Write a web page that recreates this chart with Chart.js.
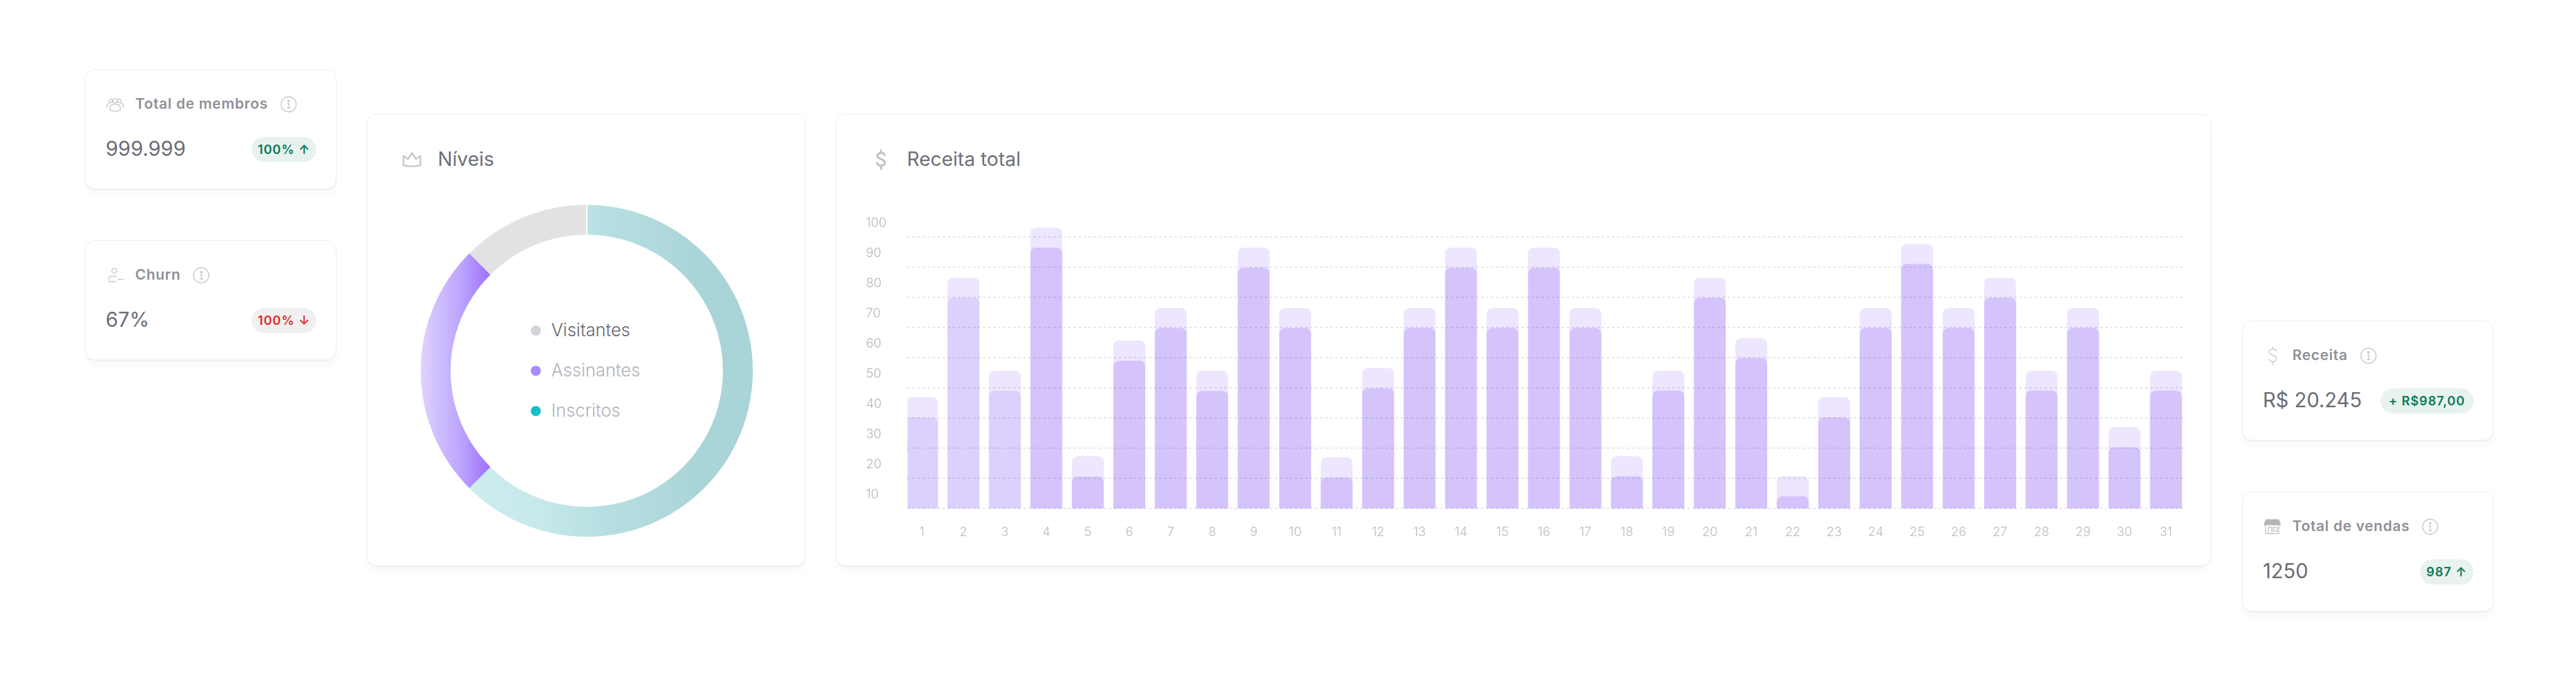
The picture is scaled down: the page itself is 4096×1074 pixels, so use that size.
<!DOCTYPE html>
<html lang="pt-BR">
<head>
<meta charset="utf-8">
<title>Dashboard</title>
<script src="https://cdn.jsdelivr.net/npm/chart.js@4"></script>
<style>
html,body{margin:0;padding:0;background:#fff;width:4096px;height:1074px;overflow:hidden;font-family:Inter,sans-serif}
.card{position:absolute;box-sizing:border-box;background:#fff;border:1.5px solid #ededef;border-radius:16px;box-shadow:0 2px 2px rgba(0,0,0,.04),0 12px 10px rgba(0,0,0,.02)}
.t{position:absolute;white-space:nowrap;line-height:40px;height:40px}
.st{font-size:23px;font-weight:600;color:#8f9198;letter-spacing:.75px}
.val{font-size:32px;font-weight:400;color:#6a6d75}
.h{font-size:31px;font-weight:400;color:#6e7079}
.badge{position:absolute;height:40px;line-height:40px;border-radius:20px;box-sizing:border-box;text-align:center;font-size:20px;font-weight:600;letter-spacing:1px;white-space:nowrap}
.g{background:#e8f2ef;color:#0a7a55}
.r{background:#f0f0f0;color:#e02b2b}
.leg{font-size:28px;font-weight:300}
.dot{position:absolute;width:16px;height:16px;border-radius:50%}
svg.i{position:absolute;overflow:visible;fill:none;stroke:#c5c5ca;stroke-width:1.4;stroke-linecap:round;stroke-linejoin:round}
canvas{position:absolute}
</style>
</head>
<body>
<div id="root"></div>
<canvas id="donut" width="528" height="528" style="left:669px;top:326px;width:528px;height:528px"></canvas>
<canvas id="bars" width="2094" height="560" style="left:1377px;top:329px;width:2094px;height:560px"></canvas>
<script>
const days = [1,2,3,4,5,6,7,8,9,10,11,12,13,14,15,16,17,18,19,20,21,22,23,24,25,26,27,28,29,30,31];
const receitaTotal = [46.8,86.4,55.6,103,27.2,65.6,76.4,55.6,96.4,76.4,26.9,56.5,76.4,96.4,76.4,96.4,76.4,27.2,55.6,86.4,66.4,20.6,46.8,76.4,97.6,76.4,86.4,55.6,76.4,36.9,55.6];
const receitaBase = [40.1,79.8,48.9,96.4,20.5,58.9,69.7,48.9,89.7,69.7,20.2,49.8,69.8,89.7,69.8,89.7,69.8,20.6,49,79.8,59.8,14,40.1,69.8,91,69.8,79.8,49,69.8,30.2,49];
const yTicks = [10,20,30,40,50,60,70,80,90,100];
const niveisLabels = ['Inscritos','Assinantes','Visitantes'];
const niveisValues = [62.5,25,12.5];
const legendOrder = ['Visitantes','Assinantes','Inscritos'];

const info = (x,y)=>`<svg class="i" style="left:${x-13}px;top:${y-13}px" width="26" height="26" viewBox="0 0 26 26"><circle cx="13" cy="13" r="12"/><circle cx="13" cy="8" r="1.2"/><path d="M11.5 12h2v7M11 19h4.5"/></svg>`;
const ic = {
 members:(x,y)=>`<svg class="i" style="left:${x-14}px;top:${y-12}px" width="28" height="24" viewBox="0 0 28 24"><circle cx="14" cy="6" r="3.6"/><circle cx="7.5" cy="6.5" r="2.6"/><circle cx="20.5" cy="6.5" r="2.6"/><path d="M7 22c-2-.5-2-8 2-9.5 3-1.2 7-1.2 10 0 4 1.500 4 9 2 9.500-4 1-10 1-14 0z"/><path d="M5 10C1.500 10.500-.5 15 2 17M23 10c3.500.5 5.500 5 3 7"/></svg>`,
 churn:(x,y)=>`<svg class="i" style="left:${x-14}px;top:${y-12}px" width="28" height="24" viewBox="0 0 28 24"><circle cx="12" cy="5" r="4"/><path d="M15 14c-4-1.500-11-1-12 3-.5 3 0 5 2 5h9M18 18.500h8"/></svg>`,
 dollar:(x,y)=>`<svg class="i" style="left:${x-9}px;top:${y-14}px" width="18" height="28" viewBox="0 0 18 28"><path d="M15 7c-1-2.500-3-3.500-6-3.500S3 5 3 8c0 6 12 4 12 11 0 3-3 4.500-6 4.500S3.500 22 2.500 19.500M9 0v3.500M9 23.500V28"/></svg>`,
 dollarB:(x,y)=>`<svg class="i" style="left:${x-9}px;top:${y-16}px;stroke-width:3;stroke:#bdbdc2" width="18" height="32" viewBox="0 0 18 32"><path d="M15 9c-1-2.500-3-3.500-6-3.500S3 7 3 10c0 6 12 4 12 11 0 3-3 4.500-6 4.500S3.500 24 2.500 21.500M9 1v4.500M9 25.500V31"/></svg>`,
 store:(x,y)=>`<svg class="i" style="left:${x-13}px;top:${y-12}px" width="26" height="24" viewBox="0 0 26 24"><path d="M3 1h20l3 8H0z" fill="#b5b5ba" stroke="#b5b5ba"/><path d="M2.500 9v14h21V9M6.500 23V13h6v10M15 13h6v6h-6z"/></svg>`,
 crown:(x,y)=>`<svg class="i" style="left:${x-15}px;top:${y-12}px;stroke-width:2.600;stroke:#c8c8cc" width="30" height="24" viewBox="0 0 30 24"><path d="M1.500 6l7 5L15 1.500 21.500 11l7-5v15c-8 2-19 2-27 0z"/></svg>`
};
const text=(cls,s,x,cy,extra='')=>`<div class="t ${cls}" style="left:${x}px;top:${cy-20}px;${extra}">${s}</div>`;
const badge=(cls,s,l,r,cy)=>`<div class="badge ${cls}" style="left:${l}px;width:${r-l}px;top:${cy-20}px">${s}</div>`;
const card=(l,t,r,b)=>`<div class="card" style="left:${l}px;top:${t}px;width:${r-l}px;height:${b-t}px"></div>`;
const legendStyle=[['#66686f','#d2d2d8'],['#b3b3ba','#a98bfc'],['#b3b3ba','#17bfcb']];
const legendY=[525,588.500,652.500];
document.getElementById('root').innerHTML=
 card(135,110,535,301)+ic.members(183,166)+text('st','Total de membros',215,165)+info(459,166)+text('val','999.999',168,237)+badge('g','100% ↑',400,503,238)+
 card(135,382,535,573)+ic.churn(184,438)+text('st','Churn',215,437)+info(320,438)+text('val','67%',168,509)+badge('r','100% ↓',400,503,510)+
 card(583,181,1281,901)+ic.crown(655,254)+text('h','Níveis',696,253)+
 card(1329,181,3516,901)+ic.dollarB(1401,254)+text('h','Receita total',1442,253)+
 card(3565,510,3965,701)+ic.dollar(3614,566)+text('st','Receita',3645,565)+info(3766,566)+text('val','R$ 20.245',3598,637)+badge('g','+ R$987,00',3785,3933,638)+
 card(3565,782,3965,973)+ic.store(3613,838)+text('st','Total de vendas',3645,837)+info(3864,838)+text('val','1250',3598,909)+badge('g','987 ↑',3848,3933,910)+
 legendOrder.map((n,i)=>`<div class="dot" style="left:844px;top:${legendY[i]-7}px;background:${legendStyle[i][1]}"></div>`+text('leg',n,876.500,legendY[i],`color:${legendStyle[i][0]}`)).join('');

Chart.defaults.font.family='Inter, sans-serif';

function sliceFill(ctx){
  const c=ctx.chart.ctx, a=ctx.chart.chartArea;
  if(!a) return '#ccc';
  const w=a.right-a.left, l=a.left;
  if(ctx.dataIndex===0){
    const g=c.createLinearGradient(l+w*.15,0,l+w*.85,0);
    g.addColorStop(0,'#cdecef');g.addColorStop(.3,'#c7e9eb');g.addColorStop(.55,'#b8e0e2');g.addColorStop(1,'#a9d4d8');
    return g;
  }
  if(ctx.dataIndex===1){
    const g=c.createLinearGradient(l,0,l+w*.2,0);
    g.addColorStop(0,'#dfd3fe');g.addColorStop(.6,'#bca5fd');g.addColorStop(1,'#a175fc');
    return g;
  }
  return '#e2e2e4';
}
const topGap={id:'topGap',afterDatasetsDraw(chart){
  const a=chart.getDatasetMeta(0).data[0], c=chart.ctx;
  c.save();c.strokeStyle='#fff';c.lineWidth=2.500;c.beginPath();
  c.moveTo(a.x,a.y-a.innerRadius+1);c.lineTo(a.x,a.y-a.outerRadius-1);c.stroke();c.restore();
}};
new Chart(document.getElementById('donut'),{
  type:'doughnut',
  data:{labels:niveisLabels,datasets:[{data:niveisValues,backgroundColor:sliceFill,borderWidth:0}]},
  options:{responsive:false,animation:false,cutout:'82%',devicePixelRatio:1,layout:{padding:0},
    plugins:{legend:{display:false},tooltip:{enabled:false}}},
  plugins:[topGap]
});

new Chart(document.getElementById('bars'),{
  type:'bar',
  data:{labels:days,datasets:[
    {label:'Base',data:receitaBase,grouped:false,barThickness:50,order:1,
     backgroundColor:c=>c.dataIndex<3?'#dcd1fd':'#d5c4fb',
     borderRadius:{topLeft:9,topRight:9,bottomLeft:0,bottomRight:0}},
    {label:'Total',data:receitaTotal,grouped:false,barThickness:50,order:2,
     backgroundColor:'#ede6fe',
     borderRadius:{topLeft:9,topRight:9,bottomLeft:0,bottomRight:0}}
  ]},
  options:{responsive:false,animation:false,devicePixelRatio:1,layout:{padding:0},
    plugins:{legend:{display:false},tooltip:{enabled:false}},
    scales:{
      x:{type:'linear',offset:false,min:0.6512,max:31.4095,
        grid:{display:false},border:{display:false},
        ticks:{stepSize:1,includeBounds:false,autoSkip:false,maxRotation:0,padding:18,color:'#bcbcc2',
          font:{size:20,weight:300},callback:v=>String(v)},
        afterBuildTicks:s=>{s.ticks=days.map(d=>({value:d}));},
        afterFit:s=>{s.height=80;s.paddingLeft=0;s.paddingRight=0;}},
      y:{min:10,max:110,
        grid:{z:1,color:'rgba(0,0,0,.1)',lineWidth:2,drawTicks:false},
        border:{display:false,dash:[4,4]},
        ticks:{stepSize:10,padding:0,crossAlign:'far',align:'end',color:'#b6b6bc',
          font:{size:20,weight:300},callback:v=>[String(v),'']},
        afterBuildTicks:s=>{s.ticks=yTicks.map(v=>({value:v}));},
        afterFit:s=>{s.width=66;s.paddingTop=0;s.paddingBottom=0;}}
    }}
});
</script>
</body>
</html>
